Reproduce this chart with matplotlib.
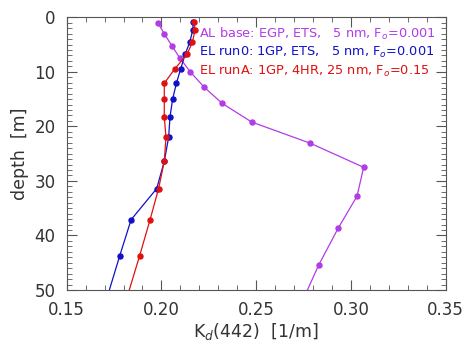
import matplotlib.pyplot as plt
from matplotlib.ticker import MultipleLocator

# depth [m] and Kd(442) [1/m]
depth_base = [1.0, 3.0, 5.3, 7.5, 10.0, 12.8, 15.8, 19.2, 23.1, 27.5, 32.8, 38.7, 45.4, 53.0]
kd_base = [0.198, 0.2015, 0.2056, 0.2098, 0.2152, 0.2225, 0.2321, 0.2476, 0.2786, 0.3067,
           0.3032, 0.2932, 0.2830, 0.2731]

depth_el = [0.8, 2.4, 4.6, 6.8, 9.4, 12.1, 15.0, 18.3, 22.0, 26.4, 31.4, 37.1, 43.7, 51.5]
kd_run0 = [0.2168, 0.2165, 0.2149, 0.2125, 0.2102, 0.2079, 0.2059, 0.2045, 0.2038, 0.2015,
           0.1975, 0.184, 0.178, 0.1712]
kd_runA = [0.2173, 0.2177, 0.2163, 0.2135, 0.2072, 0.2015, 0.2015, 0.2015, 0.2024, 0.2015,
           0.1985, 0.194, 0.1885, 0.1817]

labels = [
    "AL base: EGP, ETS,   5 nm, F$_o$=0.001",
    "EL run0: 1GP, ETS,   5 nm, F$_o$=0.001",
    "EL runA: 1GP, 4HR, 25 nm, F$_o$=0.15",
]
colors = ["#b23ce6", "#1010c8", "#e01010"]

fig = plt.figure(figsize=(4.74, 3.52), dpi=100)
ax = fig.add_axes([0.1407, 0.176, 0.7996, 0.775])

series = [(kd_base, depth_base), (kd_run0, depth_el), (kd_runA, depth_el)]
for (kd, dep), c in zip(series, colors):
    ax.plot(kd, dep, color=c, lw=0.9, marker="o", ms=3.6, mec=c, mfc=c)

ax.set_xlim(0.15, 0.35)
ax.set_ylim(50, 0)
ax.xaxis.set_major_locator(MultipleLocator(0.05))
ax.xaxis.set_minor_locator(MultipleLocator(0.01))
ax.yaxis.set_major_locator(MultipleLocator(10))
ax.yaxis.set_minor_locator(MultipleLocator(1))
ax.xaxis.set_major_formatter(plt.FuncFormatter(lambda v, p: f"{v:.2f}"))
ax.tick_params(which="both", direction="in", top=True, right=True, labelsize=12,
               color="#555555", labelcolor="#333333", pad=8)
ax.tick_params(which="major", length=7)
ax.tick_params(which="minor", length=3.5)
for s in ax.spines.values():
    s.set_color("#555555")
    s.set_linewidth(0.8)

ax.set_xlabel("K$_d$(442)  [1/m]", fontsize=12.5, labelpad=1, color="#333333")
ax.set_ylabel("depth  [m]", fontsize=12.5, labelpad=4, color="#333333")

for i, (txt, c) in enumerate(zip(labels, colors)):
    ax.text(0.349, 0.94 - i * 0.07, txt, color=c, fontsize=9.3,
            transform=ax.transAxes, ha="left", va="center")

fig.savefig("out.png", dpi=100)
